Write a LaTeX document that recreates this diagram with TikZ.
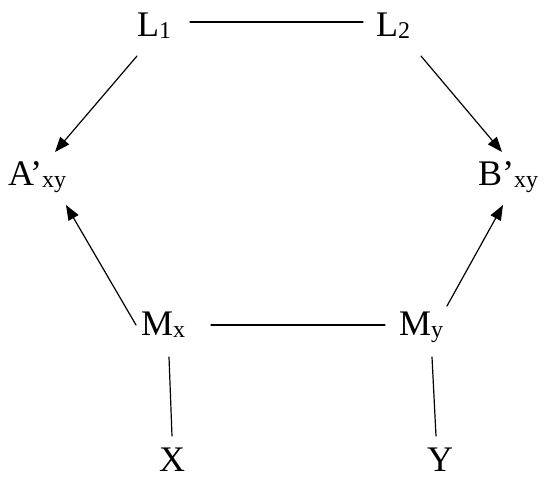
\documentclass[tikz,border=0pt]{standalone}
\usepackage{fontspec}
\setmainfont{Liberation Serif}
\usetikzlibrary{arrows.meta}
\newcommand{\bigf}{\fontsize{36}{40}\selectfont}
\newcommand{\subf}[1]{\raisebox{-2.5pt}{\fontsize{24}{27}\selectfont #1}}
\tikzset{
  lbl/.style={inner sep=0pt, anchor=base west, font=\bigf},
  conn/.style={line width=1.2pt, line cap=round},
  arr/.style={conn, -{Triangle[length=15pt,width=11.5pt]}}
}
\begin{document}
\begin{tikzpicture}[x=1pt,y=-1pt]
\useasboundingbox (0,0) rectangle (550,483);
\node[lbl] (L1) at (137,36) {L\subf{1}};
\node[lbl] (L2) at (376,36) {L\subf{2}};
\node[lbl] (A) at (8,185) {A’\subf{xy}};
\node[lbl] (B) at (478,185) {B’\subf{xy}};
\node[lbl] (Mx) at (141,335) {M\subf{x}};
\node[lbl] (My) at (399,335) {M\subf{y}};
\node[lbl] (X) at (159,471) {X};
\node[lbl] (Y) at (427,471) {Y};
\draw[conn] ([shift={(53,-14)}]L1.base west) -- ([shift={(-13,-14)}]L2.base west);
\draw[arr] ([shift={(0,20)}]L1.base west) -- ([shift={(47,-33)}]A.base west);
\draw[arr] ([shift={(45,20)}]L2.base west) -- ([shift={(24,-33)}]B.base west);
\draw[arr] ([shift={(-5,-10)}]Mx.base west) -- ([shift={(58,20)}]A.base west);
\draw[arr] ([shift={(48,-29)}]My.base west) -- ([shift={(25,20)}]B.base west);
\draw[conn] ([shift={(70,-10)}]Mx.base west) -- ([shift={(-14,-10)}]My.base west);
\draw[conn] ([shift={(28,22)}]Mx.base west) -- ([shift={(13,-35)}]X.base west);
\draw[conn] ([shift={(33,22)}]My.base west) -- ([shift={(9,-35)}]Y.base west);
\end{tikzpicture}
\end{document}
